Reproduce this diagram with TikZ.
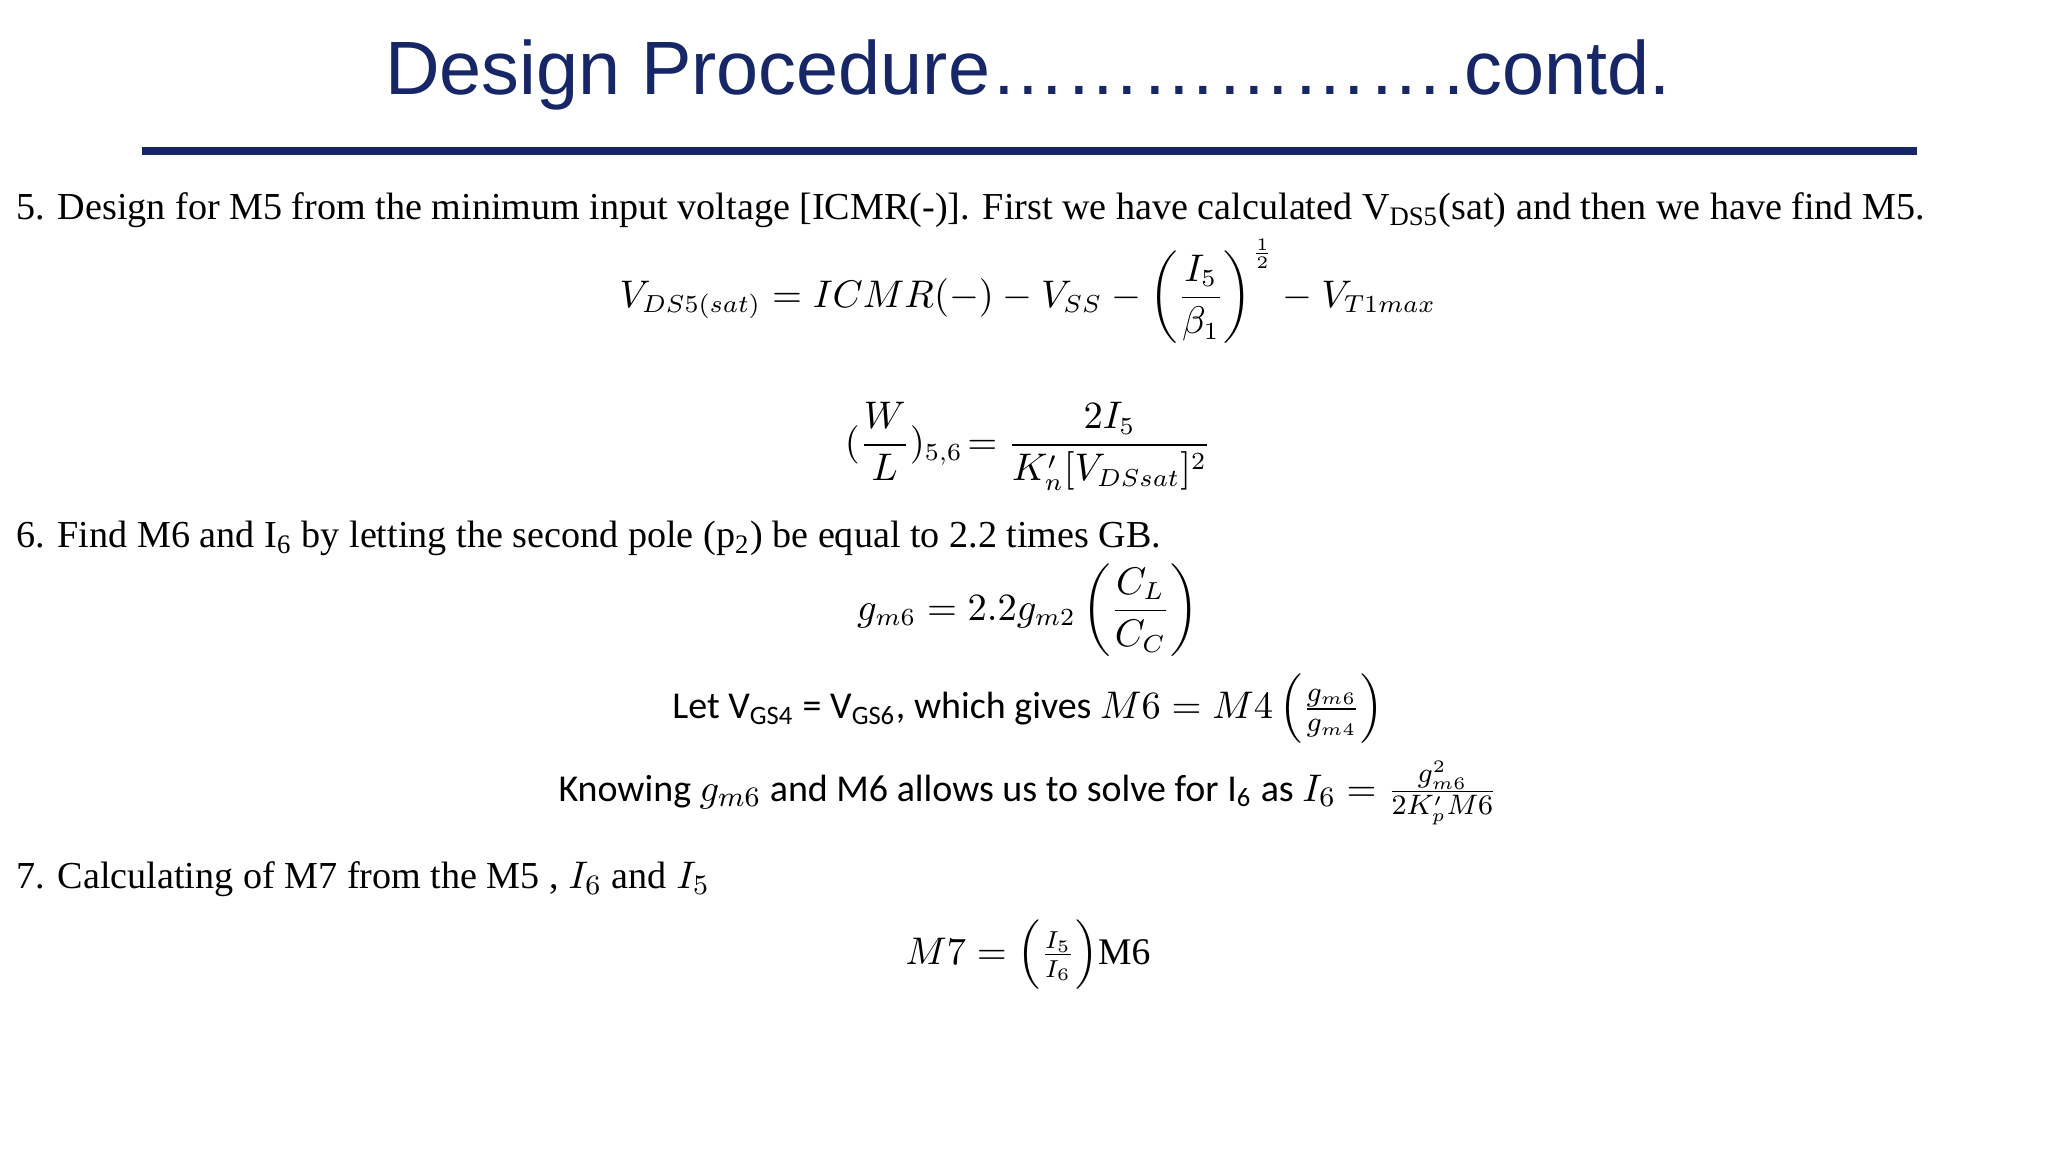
\documentclass[tikz,border=0pt]{standalone}
\usepackage{amsmath}
\usepackage{fontspec}
\setmainfont{Liberation Serif}
\newfontfamily\titlefont{Liberation Sans}
\newfontfamily\carl{Carlito}
\definecolor{navy}{RGB}{22,38,102}
\begin{document}
\begin{tikzpicture}[x=0.01313cm,y=-0.01313cm,
  body/.style={anchor=west,inner sep=0pt,font=\fontsize{10.85}{13}\selectfont},
  eq/.style={inner sep=0pt,font=\fontsize{10.7}{13}\selectfont},
  sans/.style={inner sep=0pt,font=\fontsize{10.8}{13}\selectfont\carl}]
\useasboundingbox[fill=white] (0,0) rectangle (1560,877.5);
\node[font=\fontsize{21.5}{26}\selectfont\titlefont,text=navy,inner sep=0pt] (title) at (783,57) {Design Procedure\dots\dots\dots\dots\dots\dots.contd.};
\draw[navy,line width=0.08cm] (108,115) -- (1460,115);
\node[body] (l5) at (12,160) {5. Design for M5 from the minimum input voltage [ICMR(-)]. First we have calculated V\textsubscript{DS5}(sat) and then we have find M5.};
\node[eq] (e1) at (783,222) {$\displaystyle V_{DS5(sat)}=ICMR(-)-V_{SS}-\left(\frac{I_5}{\beta_1}\right)^{\frac{1}{2}}-V_{T1max}$};
\node[eq] (e2) at (783,340) {$\displaystyle (\frac{W}{L})_{5,6}\!=\frac{2I_5}{K_n'[V_{DSsat}]^2}$};
\node[body] (l6) at (12,410) {6. Find M6 and I\textsubscript{6} by letting the second pole (p\textsubscript{2}) be equal to 2.2 times GB.};
\node[eq] (e3) at (783,465) {$\displaystyle g_{m6}=2.2g_{m2}\left(\frac{C_L}{C_C}\right)$};
\node[sans] (e4) at (783,540) {Let V\textsubscript{GS4} = V\textsubscript{GS6}, which gives $M6=M4\left(\frac{g_{m6}}{g_{m4}}\right)$};
\node[sans] (e5) at (783,604) {Knowing $g_{m6}$ and M6 allows us to solve for I\textsubscript{6} as $I_6=\frac{g_{m6}^2}{2K_p'M6}$};
\node[body] (l7) at (12,670) {7. Calculating of M7 from the M5 , $I_6$ and $I_5$};
\node[eq] (e6) at (783,727) {$M7=\left(\frac{I_5}{I_6}\right)$M6};
\end{tikzpicture}
\end{document}
